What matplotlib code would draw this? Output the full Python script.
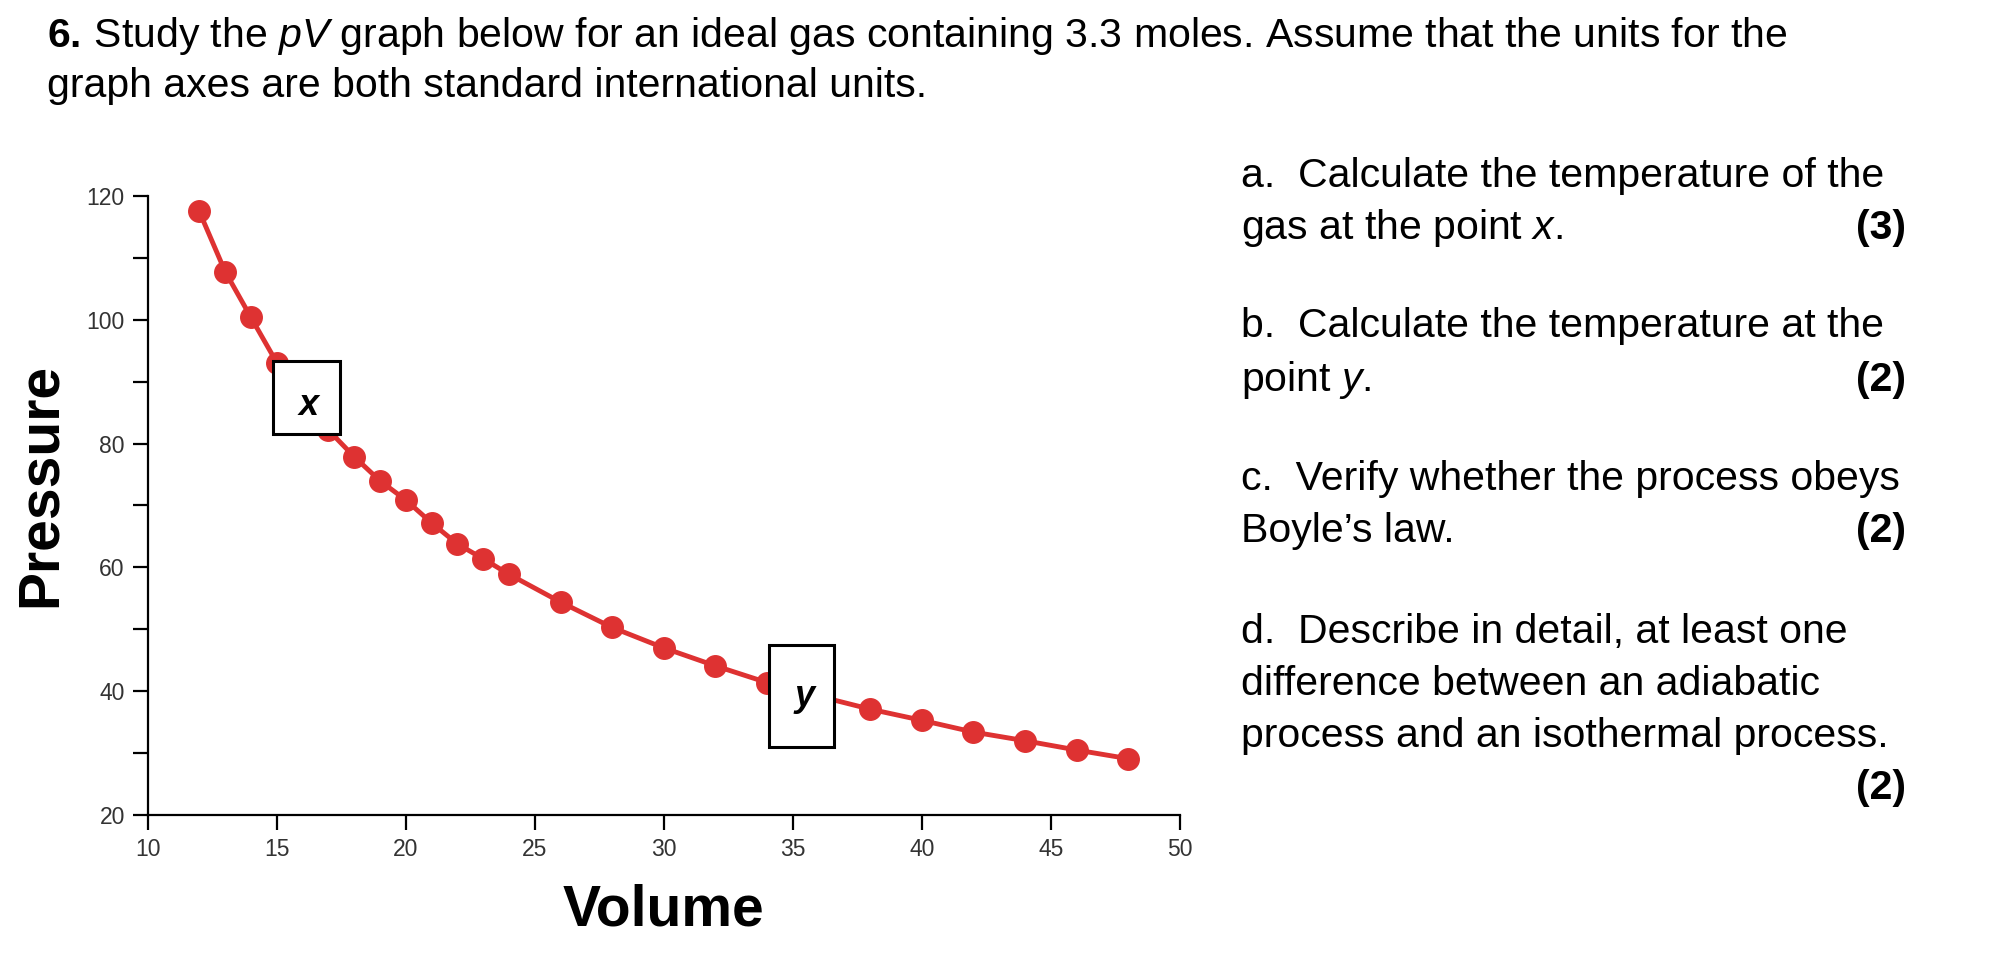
import numpy as np
import matplotlib
matplotlib.use("Agg")
import matplotlib.pyplot as plt
from matplotlib.patches import Rectangle
from matplotlib.ticker import MultipleLocator

# data
volume = [12, 13, 14, 15, 16, 17, 18, 19, 20, 21, 22, 23, 24,
          26, 28, 30, 32, 34, 36, 38, 40, 42, 44, 46, 48]
pressure = [117.5, 107.8, 100.4, 93.1, 88.1, 82.2, 77.9, 74.0, 70.9, 67.2, 63.8, 61.4, 58.9,
            54.4, 50.3, 47.0, 44.1, 41.4, 39.2, 37.1, 35.3, 33.4, 32.0, 30.5, 29.1]
x_ticks = [10, 15, 20, 25, 30, 35, 40, 45, 50]
y_ticks = [20, 40, 60, 80, 100, 120]
point_labels = {"x": 16, "y": 36}

plt.rcParams['font.family'] = ['Liberation Sans', 'DejaVu Sans']
plt.rcParams['mathtext.fontset'] = 'custom'
plt.rcParams['mathtext.rm'] = 'Liberation Sans'
plt.rcParams['mathtext.it'] = 'Liberation Sans:italic'
plt.rcParams['mathtext.bf'] = 'Liberation Sans:bold'

W, H = 1996, 980
fig = plt.figure(figsize=(W / 100, H / 100), dpi=100)


def px(x, y):
    return x / W, 1 - y / H


ax = fig.add_axes([147.7 / W, 1 - 815 / H, (1179.7 - 147.7) / W, (815 - 196) / H])
red = '#de3232'
ax.plot(volume, pressure, color=red, lw=3.5, marker='o', ms=15.5, mec=red, mfc=red, zorder=3)

ax.set_xlim(10, 50)
ax.set_ylim(20, 120)
ax.set_xticks(x_ticks)
ax.set_yticks(y_ticks)
ax.yaxis.set_minor_locator(MultipleLocator(10))
for s in ['top', 'right']:
    ax.spines[s].set_visible(False)
for s in ['left', 'bottom']:
    ax.spines[s].set_linewidth(1.6)
ax.tick_params(which='both', length=10.5, width=1.6, direction='out', pad=6,
               labelsize=16.5, labelcolor='#333333')

# labelled boxes over the curve: (width, height, box dx, box dy, label dx, label dy)
box_style = {"x": (2.6, 11.8, 0.15, -0.6, 0.25, -2.0),
             "y": (2.5, 16.5, -0.65, 0.0, -0.55, 0.0)}
for name, v in point_labels.items():
    p = pressure[volume.index(v)]
    bw, bh, bdx, bdy, tdx, tdy = box_style[name]
    ax.add_patch(Rectangle((v - bw / 2 + bdx, p - bh / 2 + bdy), bw, bh, facecolor='white',
                           edgecolor='black', lw=2.2, zorder=5))
    ax.text(v + tdx, p + tdy, name, fontsize=26, fontweight='bold', style='italic',
            ha='center', va='center', zorder=6)

fig.text(*px(41, 485), 'Pressure', rotation=90, fontsize=41, fontweight='bold',
         ha='center', va='center')
fig.text(*px(663, 910), 'Volume', fontsize=41, fontweight='bold', ha='center', va='center')

# question text
title1 = r'$\mathbf{6.}\,$Study the $\mathit{pV}$ graph below for an ideal gas containing 3.3 moles. Assume that the units for the'
title2 = 'graph axes are both standard international units.'
fig.text(*px(47, 47), title1, fontsize=29.5, va='baseline')
fig.text(*px(47, 97), title2, fontsize=29.5, va='baseline')

lines = [
    (187, 'a.  Calculate the temperature of the', None),
    (239, r'gas at the point $\mathit{x}$.', '(3)'),
    (337, 'b.  Calculate the temperature at the', None),
    (391, r'point $\mathit{y}$.', '(2)'),
    (490, 'c.  Verify whether the process obeys', None),
    (542, 'Boyle\u2019s law.', '(2)'),
    (643, 'd.  Describe in detail, at least one', None),
    (695, 'difference between an adiabatic', None),
    (747, 'process and an isothermal process.', None),
    (799, '', '(2)'),
]
for y, txt, mark in lines:
    if txt:
        fig.text(*px(1241, y), txt, fontsize=29.5, va='baseline')
    if mark:
        fig.text(*px(1906, y), mark, fontsize=29.5, fontweight='bold', va='baseline', ha='right')

fig.savefig('out.png', dpi=100)
